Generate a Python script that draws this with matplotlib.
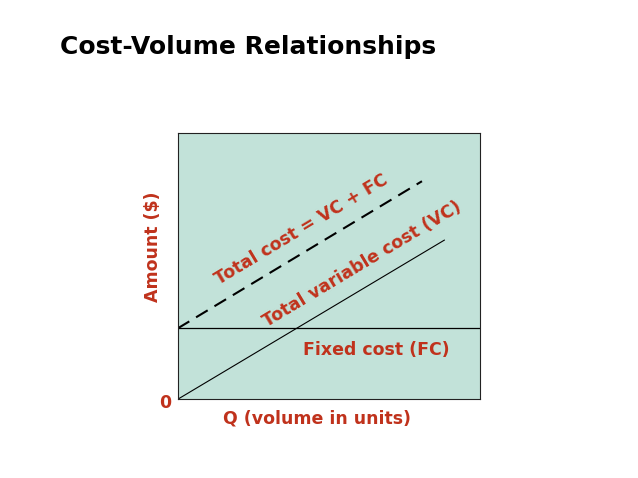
import matplotlib
matplotlib.use("Agg")
import matplotlib.pyplot as plt

# Data (units arbitrary, axis 0..10)
fc_q = [0, 10]
fc_vals = [2.66, 2.66]
vc_q = [0, 8.82]
vc_vals = [0, 5.97]
tc_q = [0, 8.08]
tc_vals = [2.66, 8.18]

RED = "#c0321c"
BG = "#c2e2d9"

W, H = 638, 478
fig = plt.figure(figsize=(W / 100, H / 100), dpi=100)
fig.patch.set_facecolor("white")

ax = fig.add_axes([177.7 / W, (H - 399.3) / H, 302.3 / W, 266.6 / H])
ax.set_facecolor(BG)
ax.set_xlim(0, 10)
ax.set_ylim(0, 10)
ax.set_xticks([])
ax.set_yticks([])
for s in ax.spines.values():
    s.set_linewidth(0.8)
    s.set_color("#222222")

ax.plot(fc_q, fc_vals, color="black", lw=0.9)
ax.plot(vc_q, vc_vals, color="black", lw=0.8)
ax.plot(tc_q, tc_vals, color="black", lw=1.5, dashes=(6.5, 3.8))

def px(x, y):
    return x / W, 1 - y / H

fs = 12.5
fig.text(*px(60, 47), "Cost-Volume Relationships", fontsize=18, fontweight="bold",
         color="black", ha="left", va="center")
fig.text(*px(301, 230), "Total cost = VC + FC", fontsize=fs, fontweight="bold",
         color=RED, rotation=31, ha="center", va="center", rotation_mode="anchor")
fig.text(*px(362, 264), "Total variable cost (VC)", fontsize=fs, fontweight="bold",
         color=RED, rotation=31, ha="center", va="center", rotation_mode="anchor")
fig.text(*px(376, 350), "Fixed cost (FC)", fontsize=fs, fontweight="bold",
         color=RED, ha="center", va="center")
fig.text(*px(153, 247), "Amount ($)", fontsize=fs, fontweight="bold",
         color=RED, rotation=90, ha="center", va="center")
fig.text(*px(165, 403), "0", fontsize=fs, fontweight="bold",
         color=RED, ha="center", va="center")
fig.text(*px(317, 419), "Q (volume in units)", fontsize=fs, fontweight="bold",
         color=RED, ha="center", va="center")

fig.savefig("out.png", dpi=100, facecolor="white")
